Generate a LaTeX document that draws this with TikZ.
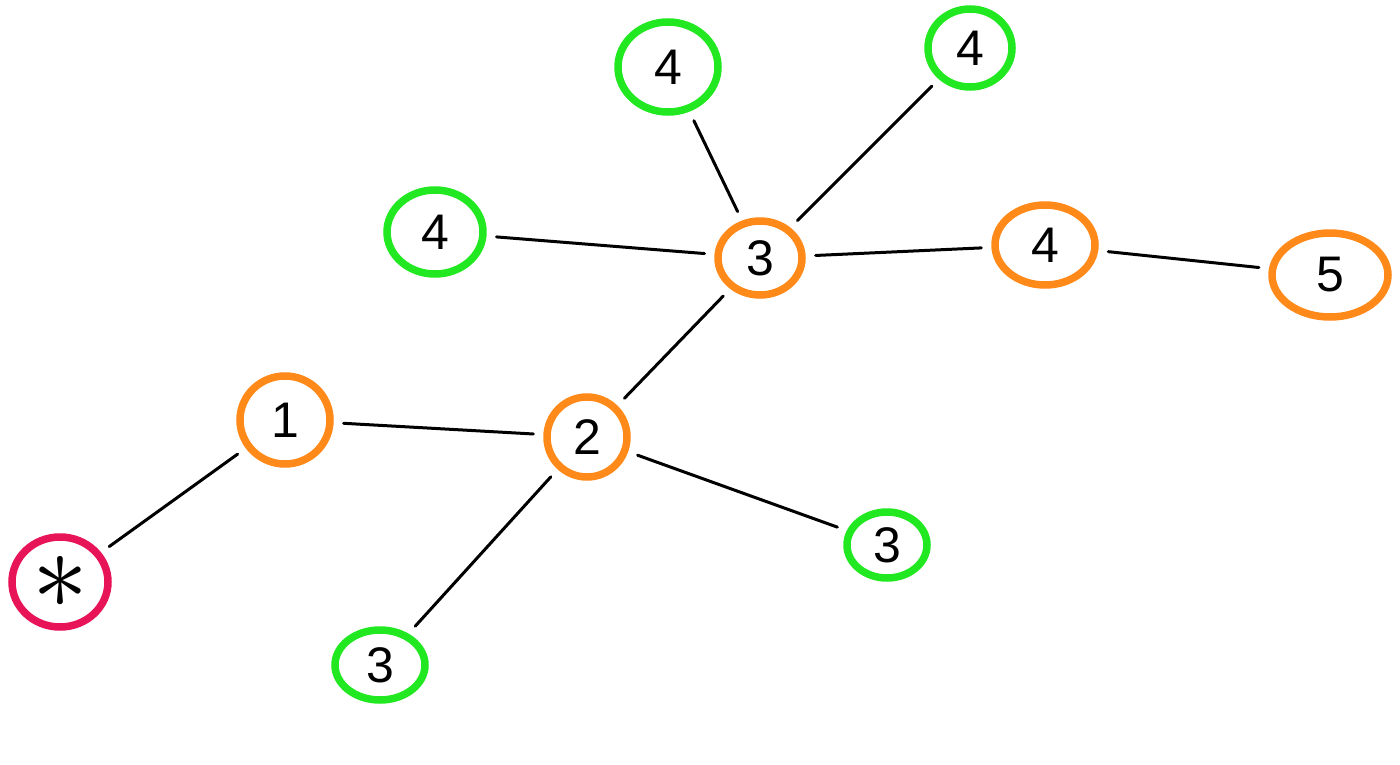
\documentclass[tikz,border=0pt]{standalone}
\usepackage{fontspec}
\setmainfont{Liberation Sans}
\usetikzlibrary{shapes.geometric}
\definecolor{orng}{RGB}{255,138,26}
\definecolor{grn}{RGB}{34,232,34}
\definecolor{rd}{RGB}{232,20,88}
\tikzset{
  vtx/.style={ellipse, draw, line width=7.5pt, inner sep=0pt, font=\fontsize{50}{50}\selectfont},
  ov/.style={vtx, draw=orng},
  gv/.style={vtx, draw=grn},
  rv/.style={vtx, draw=rd},
  edge/.style={draw=black, line width=3pt, line cap=round, shorten >=10pt, shorten <=10pt}
}
\begin{document}
\begin{tikzpicture}[x=1pt,y=-1pt]
\useasboundingbox (0,0) rectangle (1400,765);
\node[rv, minimum width=96pt, minimum height=90pt] (s) at (60,582) {\raisebox{-0.5ex}{\scalebox{4.5}{$\ast$}}};
\node[ov, minimum width=90pt, minimum height=88pt] (n1) at (285,420) {1};
\node[ov, minimum width=80pt, minimum height=80pt] (n2) at (587,437) {2};
\node[ov, minimum width=84pt, minimum height=74pt] (n3) at (760,258) {3};
\node[ov, minimum width=100pt, minimum height=80pt] (n4) at (1045,245) {4};
\node[ov, minimum width=116pt, minimum height=84pt] (n5) at (1330,275) {5};
\node[gv, minimum width=96pt, minimum height=84pt] (g4a) at (435,232) {4};
\node[gv, minimum width=100pt, minimum height=90pt] (g4b) at (668,67) {4};
\node[gv, minimum width=84pt, minimum height=78pt] (g4c) at (970,48) {4};
\node[gv, minimum width=80pt, minimum height=66pt] (g3a) at (887,545) {3};
\node[gv, minimum width=90pt, minimum height=70pt] (g3b) at (380,665) {3};
\draw[edge] (s) -- (n1);
\draw[edge] (n1) -- (n2);
\draw[edge] (n2) -- (n3);
\draw[edge] (n2) -- (g3a);
\draw[edge] (n2) -- (g3b);
\draw[edge] (n3) -- (g4a);
\draw[edge] (n3) -- (g4b);
\draw[edge] (n3) -- (g4c);
\draw[edge] (n3) -- (n4);
\draw[edge] (n4) -- (n5);
\end{tikzpicture}
\end{document}
